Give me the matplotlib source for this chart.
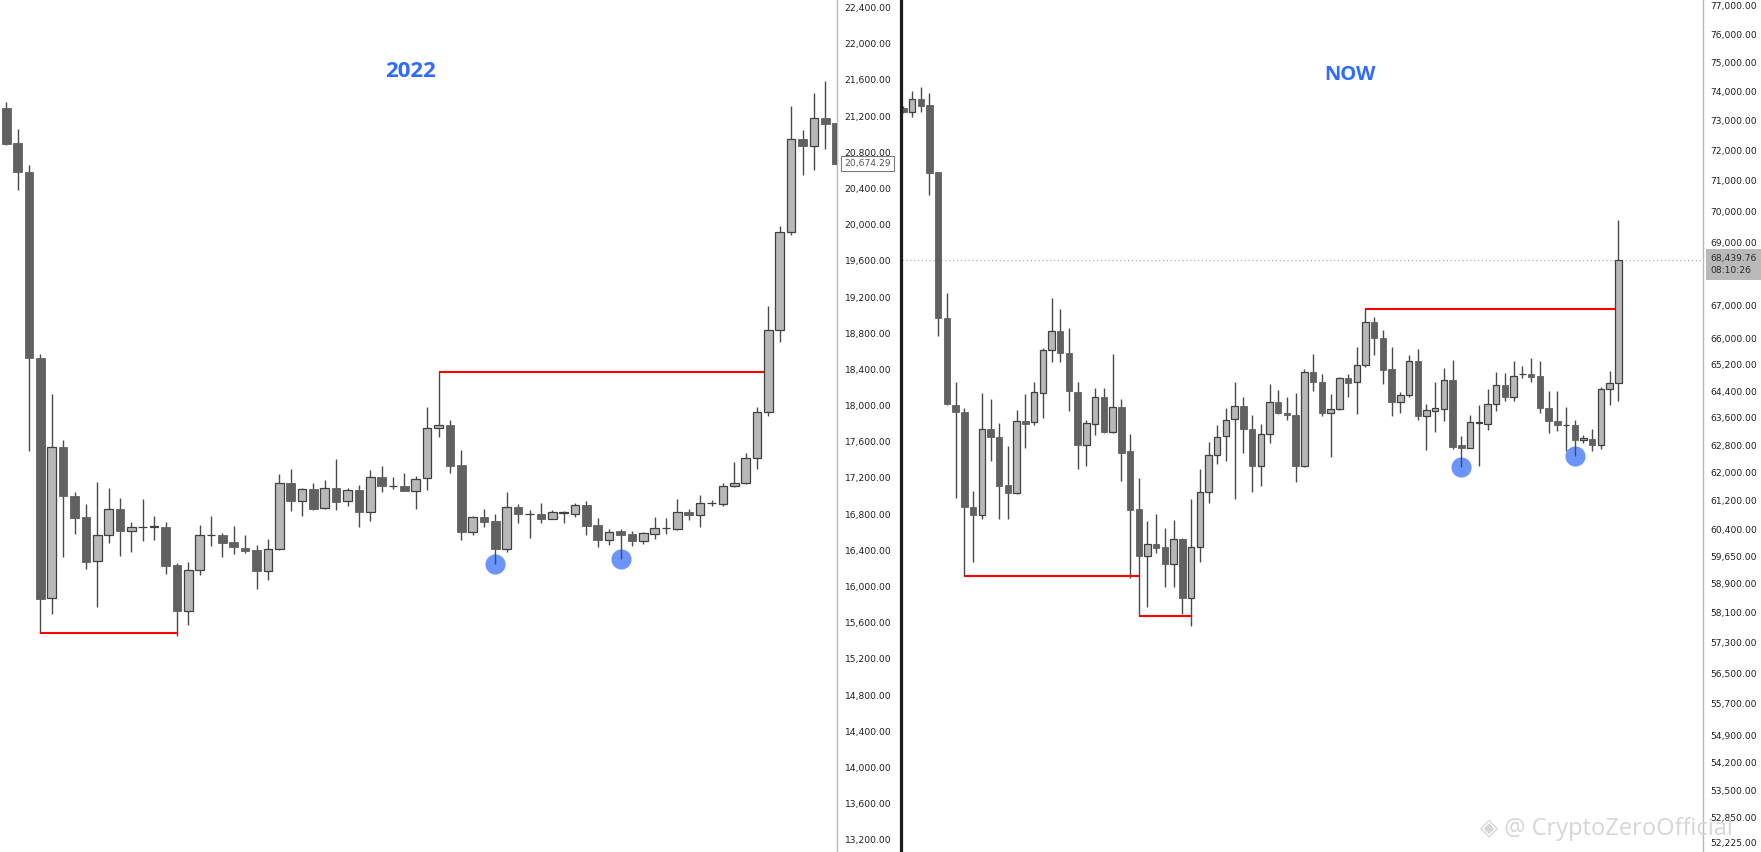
import numpy as np
import matplotlib.pyplot as plt
from matplotlib.lines import Line2D
from matplotlib.ticker import FixedLocator, FuncFormatter, NullLocator

# ---- 2022 panel: daily candles ----
open_2022 = [21290, 20903, 20580, 18528, 15872, 17541, 17000, 16767, 16278, 16566,
             16858, 16617, 16655, 16663, 16657, 16239, 15733, 16179, 16566, 16570,
             16491, 16428, 16404, 16175, 16412, 17146, 16949, 17075, 16866, 17091,
             16941, 17067, 16823, 17209, 17107, 17111, 17060, 17198, 17750, 17786,
             17344, 16606, 16767, 16724, 16420, 16878, 16797, 16803, 16752, 16817,
             16807, 16898, 16677, 16519, 16609, 16578, 16507, 16586, 16647, 16641,
             16823, 16795, 16923, 16917, 17107, 17150, 17419, 17924, 18831, 19913,
             20943, 20864, 21180, 21124]
high_2022 = [21353, 21057, 20659, 18567, 18129, 17620, 17048, 16913, 17154, 17091,
             16980, 16712, 16969, 16779, 16712, 16262, 16270, 16681, 16779, 16590,
             16669, 16570, 16460, 16527, 17245, 17300, 17091, 17146, 17178, 17411,
             17091, 17123, 17288, 17332, 17209, 17257, 17225, 17983, 18374, 17841,
             17509, 16779, 16858, 16803, 17044, 16913, 16846, 16925, 16846, 16835,
             16925, 16941, 16756, 16633, 16633, 16609, 16598, 16767, 16759, 16969,
             16858, 17012, 16960, 17142, 17375, 17478, 17983, 19096, 19980, 21310,
             21045, 21456, 21586, 21124]
low_2022 = [20880, 20386, 17494, 15489, 15702, 16322, 16586, 16199, 15777, 16487,
            16341, 16385, 16507, 16519, 16144, 15449, 15580, 16132, 16444, 16322,
            16365, 16373, 15978, 16077, 16400, 16838, 16775, 16850, 16860, 16850,
            16894, 16661, 16728, 17048, 17079, 17058, 16862, 17071, 17648, 17257,
            16519, 16574, 16653, 16250, 16381, 16704, 16538, 16704, 16750, 16708,
            16767, 16570, 16440, 16463, 16306, 16452, 16471, 16531, 16586, 16630,
            16740, 16653, 16890, 16893, 17100, 17130, 17300, 17884, 18705, 19890,
            20552, 20607, 20840, 20651]
close_2022 = [20895, 20576, 18531, 15868, 17541, 16996, 16763, 16274, 16566, 16854,
              16617, 16653, 16660, 16668, 16231, 15733, 16179, 16566, 16569, 16487,
              16432, 16396, 16175, 16412, 17146, 16949, 17075, 16862, 17087, 16937,
              17063, 16823, 17209, 17107, 17110, 17060, 17186, 17750, 17786, 17336,
              16606, 16767, 16716, 16420, 16878, 16803, 16801, 16752, 16819, 16821,
              16898, 16673, 16519, 16606, 16574, 16503, 16590, 16645, 16651, 16819,
              16795, 16925, 16927, 17107, 17146, 17419, 17924, 18831, 19913, 20943,
              20864, 21180, 21116, 20674.29]

# ---- NOW panel ----
open_now = [73450, 73308, 73735, 73539, 71280, 66628, 63995, 63785, 61026, 60811,
            63285, 63029, 61656, 61411, 63508, 63475, 64335, 65633, 66206, 65559,
            64370, 62817, 63422, 64207, 63178, 63933, 62629, 60974, 59658, 59975,
            59897, 59446, 60114, 58496, 59917, 61442, 62505, 63062, 63561, 63954,
            63273, 62188, 63124, 64082, 63760, 63686, 62197, 64978, 64681, 63740,
            63868, 64788, 64661, 65188, 66484, 66016, 65052, 64082, 64275, 65315,
            63657, 63806, 63868, 64720, 62800, 62720, 63440, 63422, 64023, 64588,
            64229, 64900, 64910, 64850, 63895, 63496, 63380, 63380, 62953, 62989,
            62800, 64458, 64649]
high_now = [73500, 74016, 74151, 73955, 71290, 67385, 64658, 63880, 61482, 64355,
            64177, 63454, 62774, 63847, 64326, 64682, 65707, 67226, 66909, 66316,
            64682, 63549, 64476, 64476, 65529, 64177, 63136, 61858, 60626, 60831,
            60431, 60657, 60153, 61260, 62116, 62890, 63401, 63900, 64658, 64230,
            63686, 63422, 64615, 64430, 64207, 64355, 65052, 65529, 64924, 64326,
            64818, 64904, 65730, 66919, 66653, 66238, 65730, 64379, 65496, 65666,
            64016, 64681, 65085, 65340, 63071, 63692, 63987, 64458, 64966, 64942,
            65318, 65140, 65402, 65318, 64400, 64400, 63928, 63536, 63107, 63280,
            64518, 65001, 69705]
low_now = [73250, 73114, 73284, 70545, 66059, 63974, 61268, 59093, 59476, 60697,
           62352, 60697, 60697, 61400, 62734, 63380, 63591, 65274, 65274, 63793,
           62116, 62197, 63103, 63170, 63170, 61778, 59045, 58020, 58261, 59747,
           58803, 58803, 58080, 57760, 59495, 61146, 62268, 62352, 61248, 62589,
           61453, 61636, 62858, 63730, 63549, 61727, 62180, 64409, 63665, 62456,
           63826, 64219, 63719, 65114, 65476, 64598, 63645, 63740, 64219, 63530,
           62650, 63178, 63497, 62690, 62183, 62710, 62205, 63247, 63812, 64111,
           64111, 64790, 64675, 63752, 63160, 63220, 62638, 62477, 62852, 62638,
           62696, 63987, 64111]
close_now = [73300, 73735, 73515, 71271, 66606, 64007, 63773, 61026, 60811, 63285,
             63029, 61636, 61411, 63508, 63433, 64367, 65633, 66206, 65538, 64388,
             62817, 63454, 64207, 63178, 63933, 62589, 60954, 59658, 59975, 59875,
             59446, 60114, 58496, 59917, 61442, 62505, 63029, 63538, 63954, 63264,
             62188, 63124, 64070, 63740, 63677, 62197, 64957, 64681, 63740, 63868,
             64788, 64649, 65188, 66484, 66016, 65031, 64082, 64283, 65307, 63645,
             63835, 63880, 64721, 62754, 62720, 63481, 63470, 64011, 64588, 64229,
             64860, 64920, 64826, 63904, 63496, 63380, 63400, 62953, 63012, 62800,
             64458, 64649, 68439.76]

ticks_2022 = [13200, 13600, 14000, 14400, 14800, 15200, 15600, 16000, 16400, 16800,
              17200, 17600, 18000, 18400, 18800, 19200, 19600, 20000, 20400, 20800,
              21200, 21600, 22000, 22400]
ticks_now = [52225, 52850, 53500, 54200, 54900, 55700, 56500, 57300, 58100, 58900,
             59650, 60400, 61200, 62000, 62800, 63600, 64400, 65200, 66000, 67000,
             69000, 70000, 71000, 72000, 73000, 74000, 75000, 76000, 77000]
countdown = '08:10:26'

# red levels: (from candle, to candle, price taken from the candle it starts at)
levels_2022 = [(3, 15, low_2022[3]), (38, 66.62, high_2022[38])]
levels_now = [(7, 27, low_now[7]), (27, 33, low_now[27]), (53, 81.61, 66900)]
dots_2022 = [43, 54]
dots_now = [64, 77]

UP = '#b8b8b8'
DOWN = '#616161'
EDGE = '#404040'
WICK = '#4a4a4a'
RED = '#ff0000'
DOT = '#6b95fb'
BLUE_TXT = '#2f6bff'

W, H = 1761, 852
fig = plt.figure(figsize=(W / 100, H / 100), dpi=100)
ax1 = fig.add_axes([0, 0, 837 / W, 1])
ax2 = fig.add_axes([902 / W, 0, 801 / W, 1])


def draw_candles(ax, o, h, l, c, width):
    o = np.array(o, float)
    c = np.array(c, float)
    x = np.arange(len(o))
    up = c >= o
    ax.vlines(x, l, h, color=WICK, lw=1.0, zorder=2)
    bottom = np.minimum(o, c)
    height = np.abs(c - o)
    ax.bar(x[up], height[up], bottom=bottom[up], width=width, color=UP,
           edgecolor=EDGE, linewidth=0.9, zorder=3)
    ax.bar(x[~up], height[~up], bottom=bottom[~up], width=width, color=DOWN,
           edgecolor=DOWN, linewidth=0.6, zorder=3)


def style_axis(ax, ticks):
    ax.yaxis.tick_right()
    ax.yaxis.set_major_locator(FixedLocator(ticks))
    ax.yaxis.set_minor_locator(NullLocator())
    ax.yaxis.set_major_formatter(FuncFormatter(lambda v, p: f'{v:,.2f}'))
    ax.tick_params(axis='y', length=0, pad=5.5, labelsize=6.6, labelcolor='#1e1e1e')
    ax.set_xticks([])
    for s in ['top', 'left', 'bottom']:
        ax.spines[s].set_visible(False)
    ax.spines['right'].set_color('#b9b9b9')
    ax.spines['right'].set_linewidth(1.0)


# left panel
draw_candles(ax1, open_2022, high_2022, low_2022, close_2022, 0.76)
for a, b, p in levels_2022:
    ax1.hlines(p, a, b, color=RED, lw=1.5, zorder=2.5)
ax1.plot(dots_2022, [low_2022[i] for i in dots_2022], 'o', ms=14.5, color=DOT,
         mec='none', zorder=1)
ax1.set_xlim(-0.554, 73.03)
ax1.set_ylim(13067, 22482)
style_axis(ax1, ticks_2022)
ax1.text(0.491, 0.9155, '2022', transform=ax1.transAxes, ha='center', va='center',
         fontsize=16, fontweight='bold', family=['Open Sans', 'DejaVu Sans'], color=BLUE_TXT)
ax1.annotate(f'{close_2022[-1]:,.2f}', xy=(1, close_2022[-1]),
             xycoords=ax1.get_yaxis_transform(), xytext=(5.5, 0),
             textcoords='offset points', ha='left', va='center', fontsize=6.6,
             color='#555555', annotation_clip=False,
             bbox=dict(boxstyle='square,pad=0.35', fc='white', ec='#7a7a7a', lw=0.8))

# right panel (log scale, like the original)
ax2.set_yscale('log')
draw_candles(ax2, open_now, high_now, low_now, close_now, 0.74)
for a, b, p in levels_now:
    ax2.hlines(p, a, b, color=RED, lw=1.5, zorder=2.5)
ax2.plot(dots_now, [low_now[i] for i in dots_now], 'o', ms=14.5, color=DOT,
         mec='none', zorder=1)
ax2.axhline(close_now[-1], color='#a3a3a3', lw=0.8, ls=(0, (1, 2.5)), zorder=0)
ax2.set_xlim(-0.15, 91.71)
ax2.set_ylim(52000, 77210)
style_axis(ax2, ticks_now)
ax2.text(0.559, 0.9115, 'NOW', transform=ax2.transAxes, ha='center', va='center',
         fontsize=14.5, fontweight='bold', family=['Open Sans', 'DejaVu Sans'], color=BLUE_TXT)
ax2.annotate(f'{close_now[-1]:,.2f}\n{countdown}', xy=(1, close_now[-1]),
             xycoords=ax2.get_yaxis_transform(), xytext=(5.5, 4.2),
             textcoords='offset points', ha='left', va='top', fontsize=6.6,
             linespacing=1.45, color='#2a2a2a', annotation_clip=False,
             bbox=dict(boxstyle='square,pad=0.55', fc='#b9b9b9', ec='none'))

# dark divider between the two charts
fig.add_artist(Line2D([900.5 / W, 900.5 / W], [0, 1], transform=fig.transFigure,
                      color='#1c1c1c', lw=2.3))

# faint watermark, bottom right
fig.text(0.912, 0.027, '\u25c8 @ CryptoZeroOfficial', ha='center', va='center',
         fontsize=17, color='#d6d6d6', family=['Open Sans', 'DejaVu Sans'])

fig.savefig('out.png', dpi=100, facecolor='white')
